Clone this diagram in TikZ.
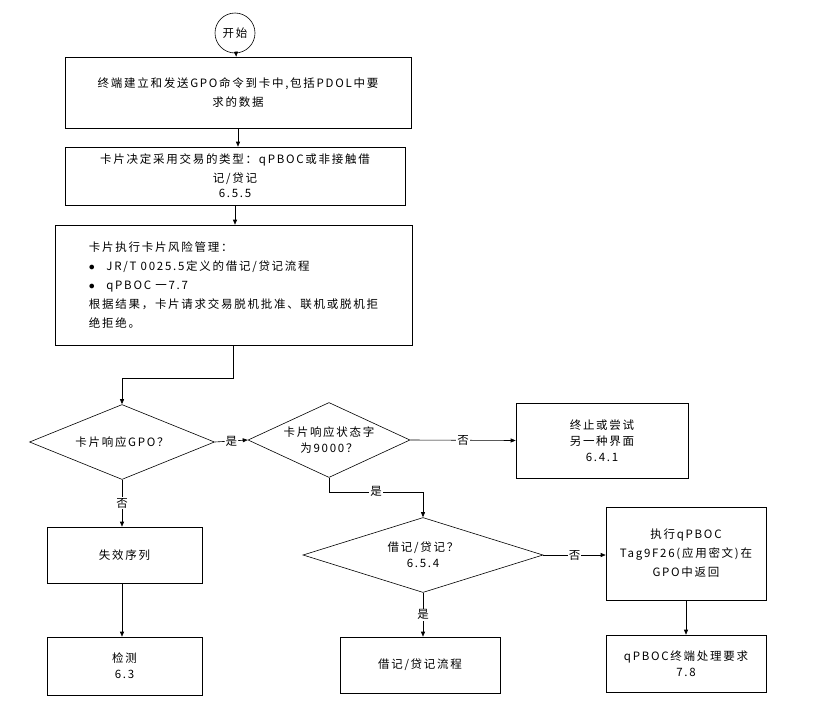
\documentclass[tikz,border=0pt]{standalone}
\usepackage{fontspec}
\setmainfont{Liberation Serif}
\newfontfamily\cjk[LetterSpace=15]{Noto Sans CJK SC}
\usetikzlibrary{shapes.geometric,arrows.meta}
\begin{document}
\begin{tikzpicture}[x=1pt,y=-1pt,font=\cjk\fontsize{11.5}{19}\selectfont,
  box/.style={draw,semithick,align=center,inner sep=2pt},
  dia/.style={draw,diamond,semithick,inner sep=0pt,align=center},
  arr/.style={draw,semithick,-{Triangle[length=5pt,width=4pt]}},
  lab/.style={fill=white,inner sep=1pt}]
\useasboundingbox (0,0) rectangle (830,715);
\node[draw,semithick,circle,minimum size=40pt,inner sep=0pt] (s) at (235,33) {开\,始};
\node[box,minimum width=346pt,minimum height=71pt] (b1) at (238,92.5) {终端建立和发送GPO命令到卡中,包括PDOL中要\\求的数据};
\node[box,minimum width=340pt,minimum height=58pt] (b2) at (235,176) {卡片决定采用交易的类型：qPBOC或非接触借\\记/贷记\\[-4pt]6.5.5};
\node[box,minimum width=357pt,minimum height=120pt,align=left] (b3) at (233.5,285) {卡片执行卡片风险管理：\\$\bullet$\quad JR/T 0025.5定义的借记/贷记流程\\$\bullet$\quad qPBOC 一7.7\\根据结果，卡片请求交易脱机批准、联机或脱机拒\\绝拒绝。};
\node[dia,aspect=2.47,minimum width=185pt,minimum height=75pt] (d1) at (122,442) {卡片响应GPO？};
\node[dia,aspect=2.16,minimum width=162pt,minimum height=75pt] (d2) at (329,440) {卡片响应状态字\\[-3pt]为9000？};
\node[box,minimum width=172pt,minimum height=75pt] (e1) at (602,440.5) {终止或尝试\\[-3pt]另一种界面\\[-3pt]6.4.1};
\node[dia,aspect=3.2,minimum width=240pt,minimum height=75pt] (d3) at (423,555) {借记/贷记？\\[-3pt]6.5.4};
\node[box,minimum width=160pt,minimum height=93pt] (q1) at (686,553.5) {执行qPBOC\\Tag9F26(应用密文)在\\GPO中返回};
\node[box,minimum width=160pt,minimum height=57pt] (q2) at (686,663.5) {qPBOC终端处理要求\\[-3pt]7.8};
\node[box,minimum width=160pt,minimum height=56pt] (dc) at (420,665) {借记/贷记流程};
\node[box,minimum width=155pt,minimum height=56pt] (f1) at (124.5,555) {失效序列};
\node[box,minimum width=155pt,minimum height=58pt] (f2) at (124.5,666) {检测\\[-3pt]6.3};
\draw[arr] (s) -- (b1);
\draw[arr] (b1) -- (b1|-b2.north);
\draw[arr] (b2) -- (b2|-b3.north);
\draw[arr] (b3.south) -- ++(0,33) -| (d1.north);
\draw[arr] (d1.east) -- node[lab]{是} (d2.west);
\draw[arr] (d2.east) -- node[lab]{否} (e1.west);
\draw[arr] (d2.south) -- ++(0,14) -| node[lab,pos=0.25]{是} (d3.north);
\draw[arr] (d3.east) -- node[lab]{否} (q1.west|-d3.east);
\draw[arr] (d3.south) -- node[lab]{是} (d3.south|-dc.north);
\draw[arr] (d1.south) -- node[lab]{否} (d1.south|-f1.north);
\draw[arr] (f1.south-|d1) -- (d1|-f2.north);
\draw[arr] (q1) -- (q2);
\end{tikzpicture}
\end{document}
